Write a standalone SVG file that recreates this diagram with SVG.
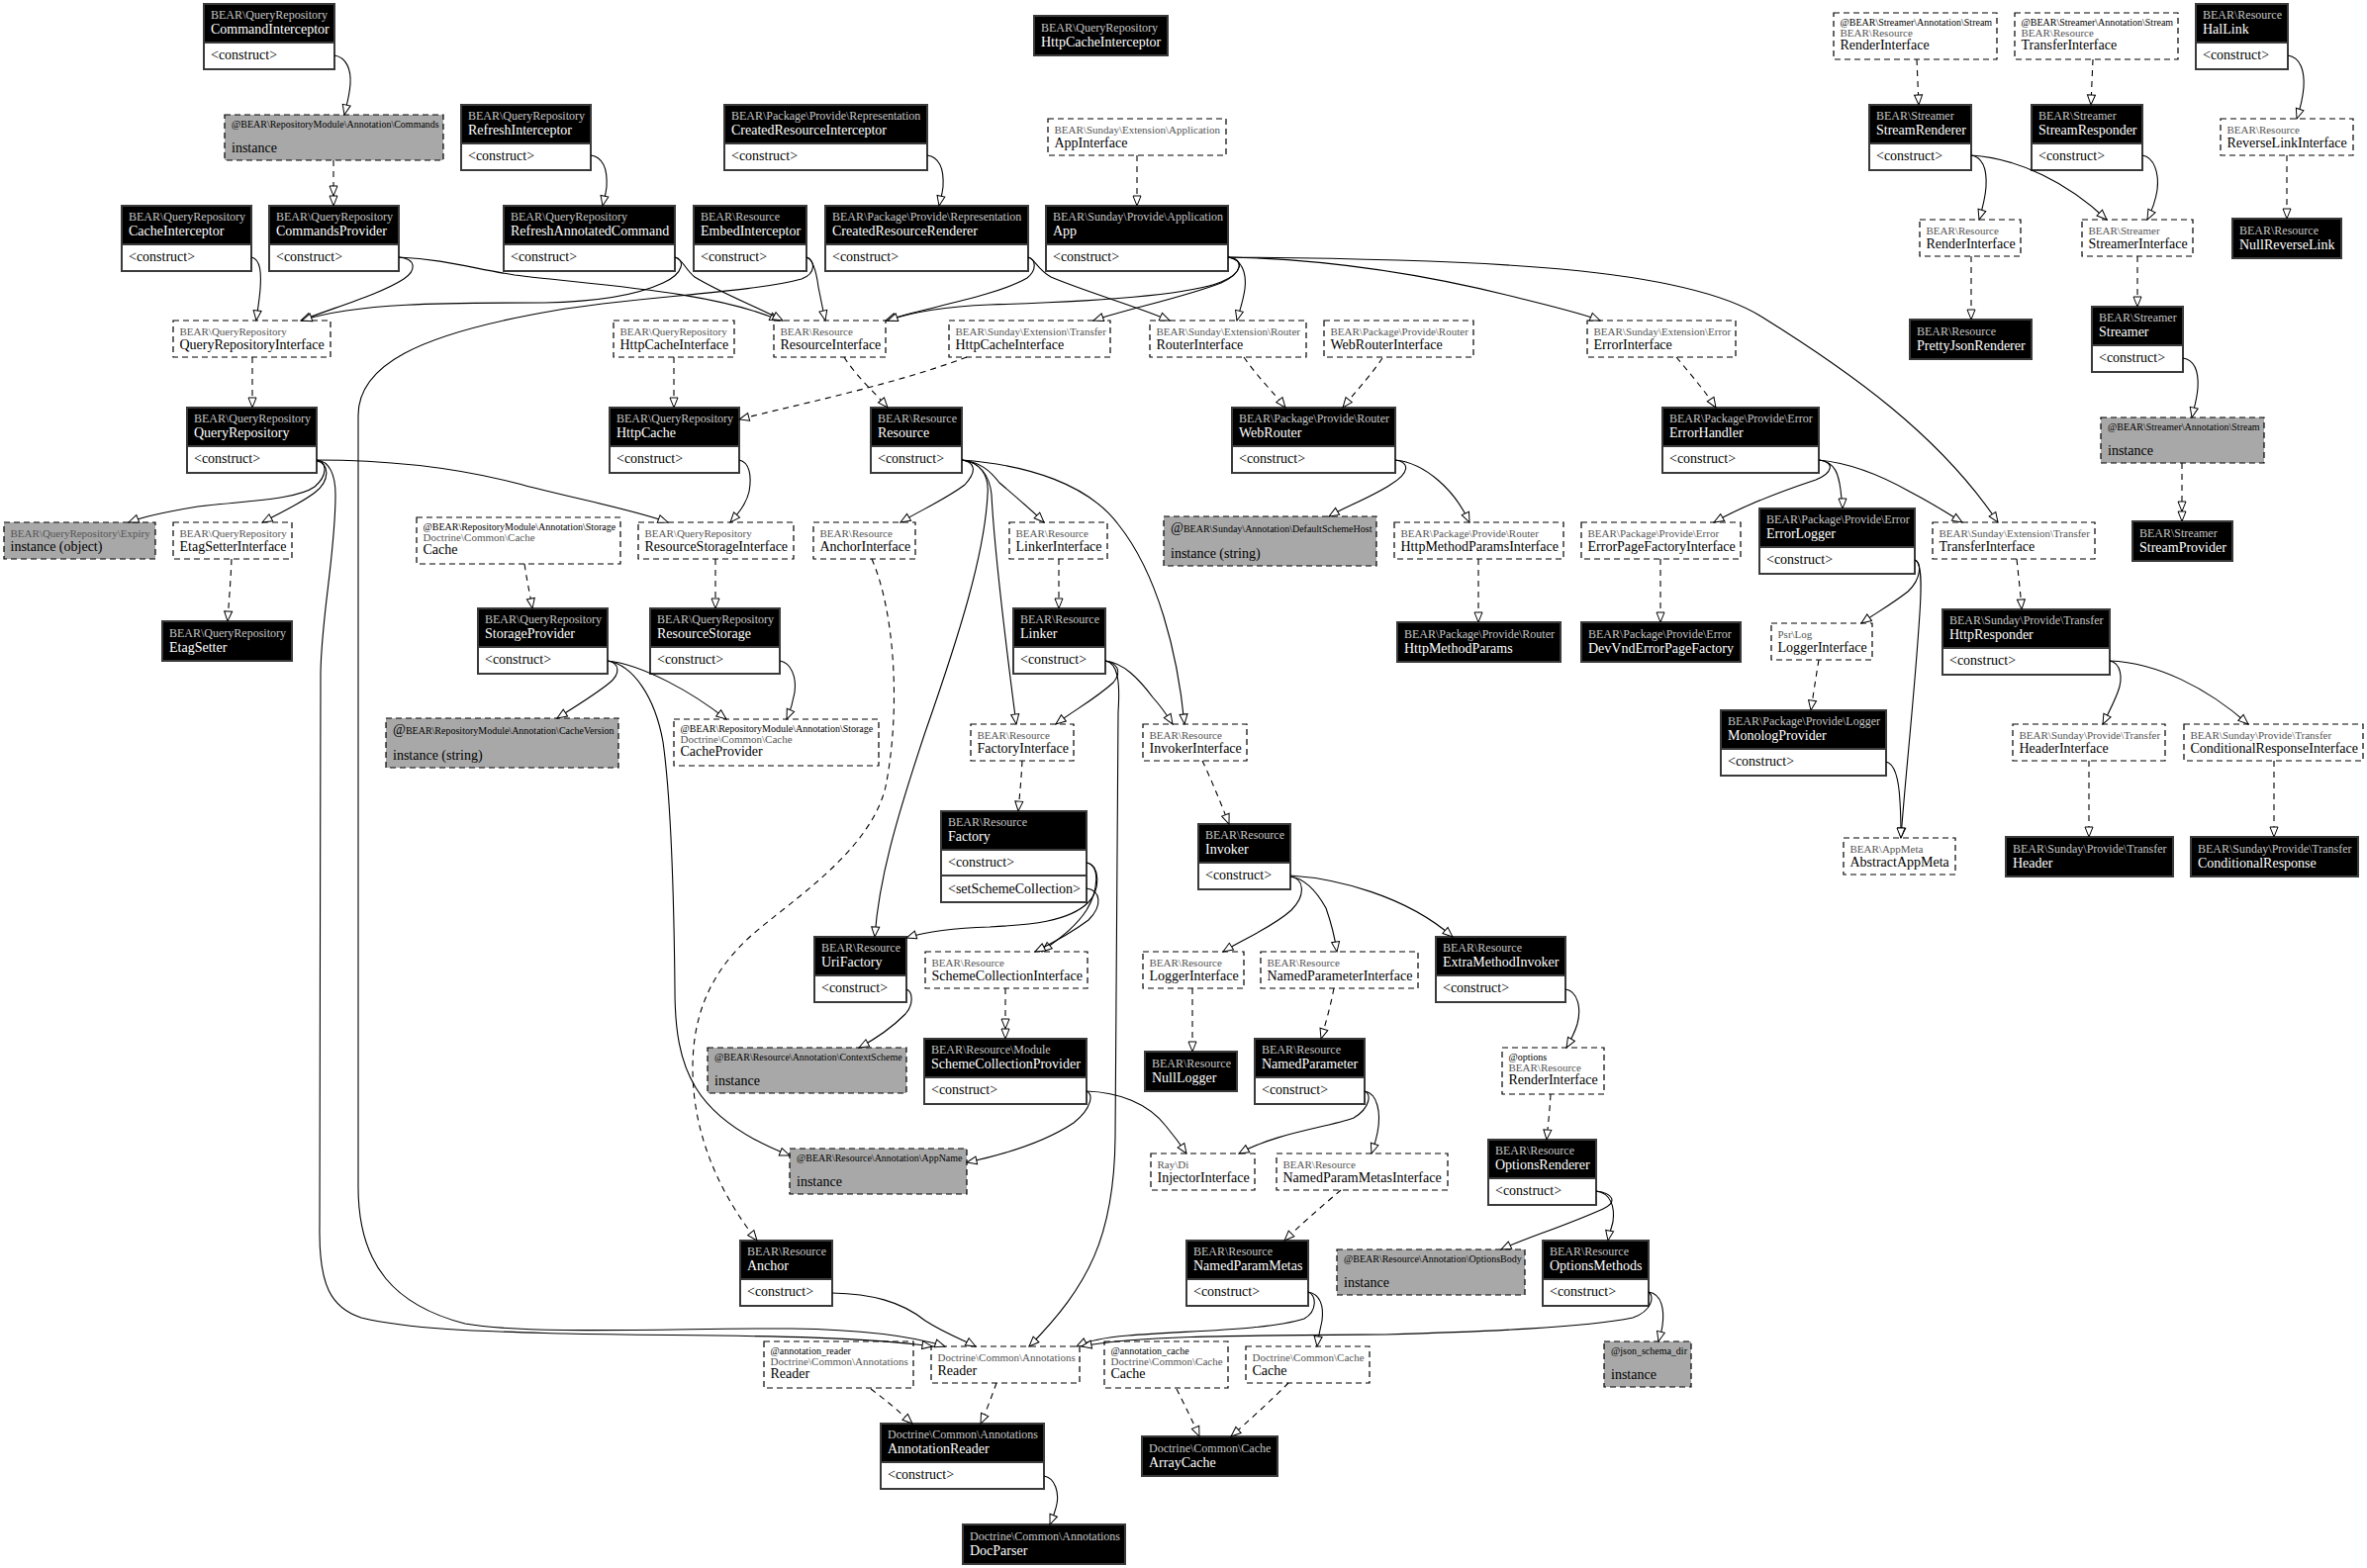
<svg xmlns="http://www.w3.org/2000/svg" width="2392" height="1585" viewBox="0 0 2392 1585">
<style>
text{font-family:"Liberation Serif","Times New Roman",serif}
.bx{fill:#fff;stroke:#3a3a3a;stroke-width:2}
.hd{fill:#000;stroke:#3a3a3a;stroke-width:2}
.if{fill:#fff;stroke:#000;stroke-width:1.2;stroke-dasharray:6,4}
.gr{fill:#a8a8a8;stroke:#000;stroke-width:1.2;stroke-dasharray:6,4}
.ns{font-size:12px;fill:#c4c4c4}
.nm{font-size:14px;fill:#fff}
.ct{font-size:14px;fill:#000}
.ins{font-size:11px;fill:#555}
.inm{font-size:14px;fill:#000}
.an{font-size:10px;fill:#000}
.at{font-size:14px;fill:#000}
.e{fill:none;stroke:#000;stroke-width:1.1;marker-end:url(#arr)}
.d{stroke-dasharray:6,5}
.h{stroke:none}
</style>
<defs>
<marker id="arr" markerUnits="userSpaceOnUse" markerWidth="14" markerHeight="12" viewBox="-2 -2 14 12" refX="10" refY="4" orient="auto" overflow="visible">
<path d="M0,0 L10,4 L0,8 Z" fill="#fff" stroke="#000" stroke-width="1" stroke-dasharray="none"/>
</marker>
</defs>
<rect x="0" y="0" width="2392" height="1585" fill="#fff"/>

<g id="nodes">
<g id="n-CommandInterceptor"><rect class="bx" x="206" y="4" width="132" height="66"/><rect class="hd" x="206" y="4" width="132" height="39"/><text class="ns" x="213" y="19">BEAR\QueryRepository</text><text class="nm" x="213" y="34">CommandInterceptor</text><text class="ct" x="213" y="60">&lt;construct&gt;</text></g>
<g id="n-RefreshInterceptor"><rect class="bx" x="466" y="106" width="131" height="66"/><rect class="hd" x="466" y="106" width="131" height="39"/><text class="ns" x="473" y="121">BEAR\QueryRepository</text><text class="nm" x="473" y="136">RefreshInterceptor</text><text class="ct" x="473" y="162">&lt;construct&gt;</text></g>
<g id="n-CreatedResourceInterceptor"><rect class="bx" x="732" y="106" width="205" height="66"/><rect class="hd" x="732" y="106" width="205" height="39"/><text class="ns" x="739" y="121">BEAR\Package\Provide\Representation</text><text class="nm" x="739" y="136">CreatedResourceInterceptor</text><text class="ct" x="739" y="162">&lt;construct&gt;</text></g>
<g id="n-CacheInterceptor"><rect class="bx" x="123" y="208" width="131" height="66"/><rect class="hd" x="123" y="208" width="131" height="39"/><text class="ns" x="130" y="223">BEAR\QueryRepository</text><text class="nm" x="130" y="238">CacheInterceptor</text><text class="ct" x="130" y="264">&lt;construct&gt;</text></g>
<g id="n-CommandsProvider"><rect class="bx" x="272" y="208" width="131" height="66"/><rect class="hd" x="272" y="208" width="131" height="39"/><text class="ns" x="279" y="223">BEAR\QueryRepository</text><text class="nm" x="279" y="238">CommandsProvider</text><text class="ct" x="279" y="264">&lt;construct&gt;</text></g>
<g id="n-RefreshAnnotatedCommand"><rect class="bx" x="509" y="208" width="173" height="66"/><rect class="hd" x="509" y="208" width="173" height="39"/><text class="ns" x="516" y="223">BEAR\QueryRepository</text><text class="nm" x="516" y="238">RefreshAnnotatedCommand</text><text class="ct" x="516" y="264">&lt;construct&gt;</text></g>
<g id="n-EmbedInterceptor"><rect class="bx" x="701" y="208" width="114" height="66"/><rect class="hd" x="701" y="208" width="114" height="39"/><text class="ns" x="708" y="223">BEAR\Resource</text><text class="nm" x="708" y="238">EmbedInterceptor</text><text class="ct" x="708" y="264">&lt;construct&gt;</text></g>
<g id="n-CreatedResourceRenderer"><rect class="bx" x="834" y="208" width="205" height="66"/><rect class="hd" x="834" y="208" width="205" height="39"/><text class="ns" x="841" y="223">BEAR\Package\Provide\Representation</text><text class="nm" x="841" y="238">CreatedResourceRenderer</text><text class="ct" x="841" y="264">&lt;construct&gt;</text></g>
<g id="n-App"><rect class="bx" x="1057" y="208" width="184" height="66"/><rect class="hd" x="1057" y="208" width="184" height="39"/><text class="ns" x="1064" y="223">BEAR\Sunday\Provide\Application</text><text class="nm" x="1064" y="238">App</text><text class="ct" x="1064" y="264">&lt;construct&gt;</text></g>
<g id="n-QueryRepository"><rect class="bx" x="189" y="412" width="131" height="66"/><rect class="hd" x="189" y="412" width="131" height="39"/><text class="ns" x="196" y="427">BEAR\QueryRepository</text><text class="nm" x="196" y="442">QueryRepository</text><text class="ct" x="196" y="468">&lt;construct&gt;</text></g>
<g id="n-HttpCache"><rect class="bx" x="616" y="412" width="131" height="66"/><rect class="hd" x="616" y="412" width="131" height="39"/><text class="ns" x="623" y="427">BEAR\QueryRepository</text><text class="nm" x="623" y="442">HttpCache</text><text class="ct" x="623" y="468">&lt;construct&gt;</text></g>
<g id="n-Resource"><rect class="bx" x="880" y="412" width="92" height="66"/><rect class="hd" x="880" y="412" width="92" height="39"/><text class="ns" x="887" y="427">BEAR\Resource</text><text class="nm" x="887" y="442">Resource</text><text class="ct" x="887" y="468">&lt;construct&gt;</text></g>
<g id="n-WebRouter"><rect class="bx" x="1245" y="412" width="165" height="66"/><rect class="hd" x="1245" y="412" width="165" height="39"/><text class="ns" x="1252" y="427">BEAR\Package\Provide\Router</text><text class="nm" x="1252" y="442">WebRouter</text><text class="ct" x="1252" y="468">&lt;construct&gt;</text></g>
<g id="n-ErrorHandler"><rect class="bx" x="1680" y="412" width="158" height="66"/><rect class="hd" x="1680" y="412" width="158" height="39"/><text class="ns" x="1687" y="427">BEAR\Package\Provide\Error</text><text class="nm" x="1687" y="442">ErrorHandler</text><text class="ct" x="1687" y="468">&lt;construct&gt;</text></g>
<g id="n-StreamRenderer"><rect class="bx" x="1889" y="106" width="103" height="66"/><rect class="hd" x="1889" y="106" width="103" height="39"/><text class="ns" x="1896" y="121">BEAR\Streamer</text><text class="nm" x="1896" y="136">StreamRenderer</text><text class="ct" x="1896" y="162">&lt;construct&gt;</text></g>
<g id="n-StreamResponder"><rect class="bx" x="2053" y="106" width="112" height="66"/><rect class="hd" x="2053" y="106" width="112" height="39"/><text class="ns" x="2060" y="121">BEAR\Streamer</text><text class="nm" x="2060" y="136">StreamResponder</text><text class="ct" x="2060" y="162">&lt;construct&gt;</text></g>
<g id="n-HalLink"><rect class="bx" x="2219" y="4" width="93" height="66"/><rect class="hd" x="2219" y="4" width="93" height="39"/><text class="ns" x="2226" y="19">BEAR\Resource</text><text class="nm" x="2226" y="34">HalLink</text><text class="ct" x="2226" y="60">&lt;construct&gt;</text></g>
<g id="n-Streamer"><rect class="bx" x="2114" y="310" width="92" height="66"/><rect class="hd" x="2114" y="310" width="92" height="39"/><text class="ns" x="2121" y="325">BEAR\Streamer</text><text class="nm" x="2121" y="340">Streamer</text><text class="ct" x="2121" y="366">&lt;construct&gt;</text></g>
<g id="n-StorageProvider"><rect class="bx" x="483" y="615" width="131" height="66"/><rect class="hd" x="483" y="615" width="131" height="39"/><text class="ns" x="490" y="630">BEAR\QueryRepository</text><text class="nm" x="490" y="645">StorageProvider</text><text class="ct" x="490" y="671">&lt;construct&gt;</text></g>
<g id="n-ResourceStorage"><rect class="bx" x="657" y="615" width="131" height="66"/><rect class="hd" x="657" y="615" width="131" height="39"/><text class="ns" x="664" y="630">BEAR\QueryRepository</text><text class="nm" x="664" y="645">ResourceStorage</text><text class="ct" x="664" y="671">&lt;construct&gt;</text></g>
<g id="n-Linker"><rect class="bx" x="1024" y="615" width="93" height="66"/><rect class="hd" x="1024" y="615" width="93" height="39"/><text class="ns" x="1031" y="630">BEAR\Resource</text><text class="nm" x="1031" y="645">Linker</text><text class="ct" x="1031" y="671">&lt;construct&gt;</text></g>
<g id="n-ErrorLogger"><rect class="bx" x="1778" y="514" width="157" height="66"/><rect class="hd" x="1778" y="514" width="157" height="39"/><text class="ns" x="1785" y="529">BEAR\Package\Provide\Error</text><text class="nm" x="1785" y="544">ErrorLogger</text><text class="ct" x="1785" y="570">&lt;construct&gt;</text></g>
<g id="n-HttpResponder"><rect class="bx" x="1963" y="616" width="169" height="66"/><rect class="hd" x="1963" y="616" width="169" height="39"/><text class="ns" x="1970" y="631">BEAR\Sunday\Provide\Transfer</text><text class="nm" x="1970" y="646">HttpResponder</text><text class="ct" x="1970" y="672">&lt;construct&gt;</text></g>
<g id="n-MonologProvider"><rect class="bx" x="1739" y="718" width="167" height="66"/><rect class="hd" x="1739" y="718" width="167" height="39"/><text class="ns" x="1746" y="733">BEAR\Package\Provide\Logger</text><text class="nm" x="1746" y="748">MonologProvider</text><text class="ct" x="1746" y="774">&lt;construct&gt;</text></g>
<g id="n-Factory"><rect class="bx" x="951" y="820" width="147" height="92"/><rect class="hd" x="951" y="820" width="147" height="39"/><line x1="951" y1="885" x2="1098" y2="885" stroke="#3a3a3a" stroke-width="2"/><text class="ns" x="958" y="835">BEAR\Resource</text><text class="nm" x="958" y="850">Factory</text><text class="ct" x="958" y="876">&lt;construct&gt;</text><text class="ct" x="958" y="903">&lt;setSchemeCollection&gt;</text></g>
<g id="n-Invoker"><rect class="bx" x="1211" y="833" width="93" height="66"/><rect class="hd" x="1211" y="833" width="93" height="39"/><text class="ns" x="1218" y="848">BEAR\Resource</text><text class="nm" x="1218" y="863">Invoker</text><text class="ct" x="1218" y="889">&lt;construct&gt;</text></g>
<g id="n-UriFactory"><rect class="bx" x="823" y="947" width="93" height="66"/><rect class="hd" x="823" y="947" width="93" height="39"/><text class="ns" x="830" y="962">BEAR\Resource</text><text class="nm" x="830" y="977">UriFactory</text><text class="ct" x="830" y="1003">&lt;construct&gt;</text></g>
<g id="n-ExtraMethodInvoker"><rect class="bx" x="1451" y="947" width="131" height="66"/><rect class="hd" x="1451" y="947" width="131" height="39"/><text class="ns" x="1458" y="962">BEAR\Resource</text><text class="nm" x="1458" y="977">ExtraMethodInvoker</text><text class="ct" x="1458" y="1003">&lt;construct&gt;</text></g>
<g id="n-SchemeCollectionProvider"><rect class="bx" x="934" y="1050" width="164" height="66"/><rect class="hd" x="934" y="1050" width="164" height="39"/><text class="ns" x="941" y="1065">BEAR\Resource\Module</text><text class="nm" x="941" y="1080">SchemeCollectionProvider</text><text class="ct" x="941" y="1106">&lt;construct&gt;</text></g>
<g id="n-NamedParameter"><rect class="bx" x="1268" y="1050" width="111" height="66"/><rect class="hd" x="1268" y="1050" width="111" height="39"/><text class="ns" x="1275" y="1065">BEAR\Resource</text><text class="nm" x="1275" y="1080">NamedParameter</text><text class="ct" x="1275" y="1106">&lt;construct&gt;</text></g>
<g id="n-OptionsRenderer"><rect class="bx" x="1504" y="1152" width="109" height="66"/><rect class="hd" x="1504" y="1152" width="109" height="39"/><text class="ns" x="1511" y="1167">BEAR\Resource</text><text class="nm" x="1511" y="1182">OptionsRenderer</text><text class="ct" x="1511" y="1208">&lt;construct&gt;</text></g>
<g id="n-Anchor"><rect class="bx" x="748" y="1254" width="93" height="66"/><rect class="hd" x="748" y="1254" width="93" height="39"/><text class="ns" x="755" y="1269">BEAR\Resource</text><text class="nm" x="755" y="1284">Anchor</text><text class="ct" x="755" y="1310">&lt;construct&gt;</text></g>
<g id="n-NamedParamMetas"><rect class="bx" x="1199" y="1254" width="123" height="66"/><rect class="hd" x="1199" y="1254" width="123" height="39"/><text class="ns" x="1206" y="1269">BEAR\Resource</text><text class="nm" x="1206" y="1284">NamedParamMetas</text><text class="ct" x="1206" y="1310">&lt;construct&gt;</text></g>
<g id="n-OptionsMethods"><rect class="bx" x="1559" y="1254" width="107" height="66"/><rect class="hd" x="1559" y="1254" width="107" height="39"/><text class="ns" x="1566" y="1269">BEAR\Resource</text><text class="nm" x="1566" y="1284">OptionsMethods</text><text class="ct" x="1566" y="1310">&lt;construct&gt;</text></g>
<g id="n-AnnotationReader"><rect class="bx" x="890" y="1439" width="165" height="66"/><rect class="hd" x="890" y="1439" width="165" height="39"/><text class="ns" x="897" y="1454">Doctrine\Common\Annotations</text><text class="nm" x="897" y="1469">AnnotationReader</text><text class="ct" x="897" y="1495">&lt;construct&gt;</text></g>

<g id="n-HttpCacheInterceptor"><rect class="hd" x="1045" y="16" width="135" height="40"/><text class="ns" x="1052" y="32">BEAR\QueryRepository</text><text class="nm" x="1052" y="46.5">HttpCacheInterceptor</text></g>
<g id="n-EtagSetter"><rect class="hd" x="164" y="628" width="131" height="40"/><text class="ns" x="171" y="644">BEAR\QueryRepository</text><text class="nm" x="171" y="658.5">EtagSetter</text></g>
<g id="n-NullReverseLink"><rect class="hd" x="2256" y="221" width="110" height="40"/><text class="ns" x="2263" y="237">BEAR\Resource</text><text class="nm" x="2263" y="251.5">NullReverseLink</text></g>
<g id="n-PrettyJsonRenderer"><rect class="hd" x="1930" y="323" width="123" height="40"/><text class="ns" x="1937" y="339">BEAR\Resource</text><text class="nm" x="1937" y="353.5">PrettyJsonRenderer</text></g>
<g id="n-StreamProvider"><rect class="hd" x="2155" y="527" width="101" height="40"/><text class="ns" x="2162" y="543">BEAR\Streamer</text><text class="nm" x="2162" y="557.5">StreamProvider</text></g>
<g id="n-HttpMethodParams"><rect class="hd" x="1412" y="629" width="165" height="40"/><text class="ns" x="1419" y="645">BEAR\Package\Provide\Router</text><text class="nm" x="1419" y="659.5">HttpMethodParams</text></g>
<g id="n-DevVndErrorPageFactory"><rect class="hd" x="1598" y="629" width="161" height="40"/><text class="ns" x="1605" y="645">BEAR\Package\Provide\Error</text><text class="nm" x="1605" y="659.5">DevVndErrorPageFactory</text></g>
<g id="n-Header"><rect class="hd" x="2027" y="846" width="169" height="40"/><text class="ns" x="2034" y="862">BEAR\Sunday\Provide\Transfer</text><text class="nm" x="2034" y="876.5">Header</text></g>
<g id="n-ConditionalResponse"><rect class="hd" x="2214" y="846" width="169" height="40"/><text class="ns" x="2221" y="862">BEAR\Sunday\Provide\Transfer</text><text class="nm" x="2221" y="876.5">ConditionalResponse</text></g>
<g id="n-NullLogger"><rect class="hd" x="1157" y="1063" width="93" height="40"/><text class="ns" x="1164" y="1079">BEAR\Resource</text><text class="nm" x="1164" y="1093.5">NullLogger</text></g>
<g id="n-ArrayCache"><rect class="hd" x="1154" y="1452" width="137" height="40"/><text class="ns" x="1161" y="1468">Doctrine\Common\Cache</text><text class="nm" x="1161" y="1482.5">ArrayCache</text></g>
<g id="n-DocParser"><rect class="hd" x="973" y="1541" width="164" height="40"/><text class="ns" x="980" y="1557">Doctrine\Common\Annotations</text><text class="nm" x="980" y="1571.5">DocParser</text></g>

<g id="i-QueryRepositoryInterface"><rect class="if" x="175" y="324" width="159" height="37"/><text class="ins" x="181.5" y="338.5">BEAR\QueryRepository</text><text class="inm" x="181.5" y="352.5">QueryRepositoryInterface</text></g>
<g id="i-HttpCacheInterface-QR"><rect class="if" x="620" y="324" width="122" height="37"/><text class="ins" x="626.5" y="338.5">BEAR\QueryRepository</text><text class="inm" x="626.5" y="352.5">HttpCacheInterface</text></g>
<g id="i-ResourceInterface"><rect class="if" x="782" y="324" width="113" height="37"/><text class="ins" x="788.5" y="338.5">BEAR\Resource</text><text class="inm" x="788.5" y="352.5">ResourceInterface</text></g>
<g id="i-HttpCacheInterface-T"><rect class="if" x="959" y="324" width="163" height="37"/><text class="ins" x="965.5" y="338.5">BEAR\Sunday\Extension\Transfer</text><text class="inm" x="965.5" y="352.5">HttpCacheInterface</text></g>
<g id="i-RouterInterface"><rect class="if" x="1162" y="324" width="158" height="37"/><text class="ins" x="1168.5" y="338.5">BEAR\Sunday\Extension\Router</text><text class="inm" x="1168.5" y="352.5">RouterInterface</text></g>
<g id="i-WebRouterInterface"><rect class="if" x="1338" y="324" width="151" height="37"/><text class="ins" x="1344.5" y="338.5">BEAR\Package\Provide\Router</text><text class="inm" x="1344.5" y="352.5">WebRouterInterface</text></g>
<g id="i-ErrorInterface"><rect class="if" x="1604" y="324" width="150" height="37"/><text class="ins" x="1610.5" y="338.5">BEAR\Sunday\Extension\Error</text><text class="inm" x="1610.5" y="352.5">ErrorInterface</text></g>
<g id="i-AppInterface"><rect class="if" x="1059" y="120" width="180" height="37"/><text class="ins" x="1065.5" y="134.5">BEAR\Sunday\Extension\Application</text><text class="inm" x="1065.5" y="148.5">AppInterface</text></g>
<g id="i-ReverseLinkInterface"><rect class="if" x="2244" y="120" width="134" height="37"/><text class="ins" x="2250.5" y="134.5">BEAR\Resource</text><text class="inm" x="2250.5" y="148.5">ReverseLinkInterface</text></g>
<g id="i-RenderInterface"><rect class="if" x="1940" y="222" width="102" height="37"/><text class="ins" x="1946.5" y="236.5">BEAR\Resource</text><text class="inm" x="1946.5" y="250.5">RenderInterface</text></g>
<g id="i-StreamerInterface"><rect class="if" x="2104" y="222" width="112" height="37"/><text class="ins" x="2110.5" y="236.5">BEAR\Streamer</text><text class="inm" x="2110.5" y="250.5">StreamerInterface</text></g>
<g id="i-EtagSetterInterface"><rect class="if" x="175" y="528" width="120" height="37"/><text class="ins" x="181.5" y="542.5">BEAR\QueryRepository</text><text class="inm" x="181.5" y="556.5">EtagSetterInterface</text></g>
<g id="i-ResourceStorageInterface"><rect class="if" x="645" y="528" width="157" height="37"/><text class="ins" x="651.5" y="542.5">BEAR\QueryRepository</text><text class="inm" x="651.5" y="556.5">ResourceStorageInterface</text></g>
<g id="i-AnchorInterface"><rect class="if" x="822" y="528" width="103" height="37"/><text class="ins" x="828.5" y="542.5">BEAR\Resource</text><text class="inm" x="828.5" y="556.5">AnchorInterface</text></g>
<g id="i-LinkerInterface"><rect class="if" x="1020" y="528" width="99" height="37"/><text class="ins" x="1026.5" y="542.5">BEAR\Resource</text><text class="inm" x="1026.5" y="556.5">LinkerInterface</text></g>
<g id="i-HttpMethodParamsInterface"><rect class="if" x="1409" y="528" width="171" height="37"/><text class="ins" x="1415.5" y="542.5">BEAR\Package\Provide\Router</text><text class="inm" x="1415.5" y="556.5">HttpMethodParamsInterface</text></g>
<g id="i-ErrorPageFactoryInterface"><rect class="if" x="1598" y="528" width="161" height="37"/><text class="ins" x="1604.5" y="542.5">BEAR\Package\Provide\Error</text><text class="inm" x="1604.5" y="556.5">ErrorPageFactoryInterface</text></g>
<g id="i-TransferInterface"><rect class="if" x="1953" y="528" width="164" height="37"/><text class="ins" x="1959.5" y="542.5">BEAR\Sunday\Extension\Transfer</text><text class="inm" x="1959.5" y="556.5">TransferInterface</text></g>
<g id="i-LoggerInterface-Psr"><rect class="if" x="1790" y="630" width="102" height="37"/><text class="ins" x="1796.5" y="644.5">Psr\Log</text><text class="inm" x="1796.5" y="658.5">LoggerInterface</text></g>
<g id="i-FactoryInterface"><rect class="if" x="981" y="732" width="104" height="37"/><text class="ins" x="987.5" y="746.5">BEAR\Resource</text><text class="inm" x="987.5" y="760.5">FactoryInterface</text></g>
<g id="i-InvokerInterface"><rect class="if" x="1155" y="732" width="105" height="37"/><text class="ins" x="1161.5" y="746.5">BEAR\Resource</text><text class="inm" x="1161.5" y="760.5">InvokerInterface</text></g>
<g id="i-HeaderInterface"><rect class="if" x="2034" y="732" width="154" height="37"/><text class="ins" x="2040.5" y="746.5">BEAR\Sunday\Provide\Transfer</text><text class="inm" x="2040.5" y="760.5">HeaderInterface</text></g>
<g id="i-ConditionalResponseInterface"><rect class="if" x="2207" y="732" width="181" height="37"/><text class="ins" x="2213.5" y="746.5">BEAR\Sunday\Provide\Transfer</text><text class="inm" x="2213.5" y="760.5">ConditionalResponseInterface</text></g>
<g id="i-AbstractAppMeta"><rect class="if" x="1863" y="847" width="113" height="37"/><text class="ins" x="1869.5" y="861.5">BEAR\AppMeta</text><text class="inm" x="1869.5" y="875.5">AbstractAppMeta</text></g>
<g id="i-SchemeCollectionInterface"><rect class="if" x="935" y="962" width="164" height="37"/><text class="ins" x="941.5" y="976.5">BEAR\Resource</text><text class="inm" x="941.5" y="990.5">SchemeCollectionInterface</text></g>
<g id="i-LoggerInterface-R"><rect class="if" x="1155" y="962" width="102" height="37"/><text class="ins" x="1161.5" y="976.5">BEAR\Resource</text><text class="inm" x="1161.5" y="990.5">LoggerInterface</text></g>
<g id="i-NamedParameterInterface"><rect class="if" x="1274" y="962" width="159" height="37"/><text class="ins" x="1280.5" y="976.5">BEAR\Resource</text><text class="inm" x="1280.5" y="990.5">NamedParameterInterface</text></g>
<g id="i-InjectorInterface"><rect class="if" x="1163" y="1166" width="105" height="37"/><text class="ins" x="1169.5" y="1180.5">Ray\Di</text><text class="inm" x="1169.5" y="1194.5">InjectorInterface</text></g>
<g id="i-NamedParamMetasInterface"><rect class="if" x="1290" y="1166" width="173" height="37"/><text class="ins" x="1296.5" y="1180.5">BEAR\Resource</text><text class="inm" x="1296.5" y="1194.5">NamedParamMetasInterface</text></g>
<g id="i-Reader"><rect class="if" x="941" y="1361" width="150" height="37"/><text class="ins" x="947.5" y="1375.5">Doctrine\Common\Annotations</text><text class="inm" x="947.5" y="1389.5">Reader</text></g>
<g id="i-Cache"><rect class="if" x="1259" y="1361" width="125" height="37"/><text class="ins" x="1265.5" y="1375.5">Doctrine\Common\Cache</text><text class="inm" x="1265.5" y="1389.5">Cache</text></g>

<g id="i-RenderInterface-Stream"><rect class="if" x="1853" y="13" width="165" height="47"/><text class="an" x="1859.5" y="26">@BEAR\Streamer\Annotation\Stream</text><text class="ins" x="1859.5" y="37">BEAR\Resource</text><text class="inm" x="1859.5" y="50">RenderInterface</text></g>
<g id="i-TransferInterface-Stream"><rect class="if" x="2036" y="13" width="165" height="47"/><text class="an" x="2042.5" y="26">@BEAR\Streamer\Annotation\Stream</text><text class="ins" x="2042.5" y="37">BEAR\Resource</text><text class="inm" x="2042.5" y="50">TransferInterface</text></g>
<g id="i-Cache-Storage"><rect class="if" x="421" y="523" width="206" height="47"/><text class="an" x="427.5" y="536">@BEAR\RepositoryModule\Annotation\Storage</text><text class="ins" x="427.5" y="547">Doctrine\Common\Cache</text><text class="inm" x="427.5" y="560">Cache</text></g>
<g id="i-CacheProvider-Storage"><rect class="if" x="681" y="727" width="207" height="47"/><text class="an" x="687.5" y="740">@BEAR\RepositoryModule\Annotation\Storage</text><text class="ins" x="687.5" y="751">Doctrine\Common\Cache</text><text class="inm" x="687.5" y="764">CacheProvider</text></g>
<g id="i-RenderInterface-options"><rect class="if" x="1518" y="1059" width="103" height="47"/><text class="an" x="1524.5" y="1072">@options</text><text class="ins" x="1524.5" y="1083">BEAR\Resource</text><text class="inm" x="1524.5" y="1096">RenderInterface</text></g>
<g id="i-Reader-annotation_reader"><rect class="if" x="772" y="1356" width="151" height="47"/><text class="an" x="778.5" y="1369">@annotation_reader</text><text class="ins" x="778.5" y="1380">Doctrine\Common\Annotations</text><text class="inm" x="778.5" y="1393">Reader</text></g>
<g id="i-Cache-annotation_cache"><rect class="if" x="1116" y="1356" width="125" height="47"/><text class="an" x="1122.5" y="1369">@annotation_cache</text><text class="ins" x="1122.5" y="1380">Doctrine\Common\Cache</text><text class="inm" x="1122.5" y="1393">Cache</text></g>

<g id="v-Commands"><rect class="gr" x="227" y="116" width="221" height="46"/><text class="an" x="234" y="129">@BEAR\RepositoryModule\Annotation\Commands</text><text class="at" x="234" y="154">instance</text></g>
<g id="v-Stream"><rect class="gr" x="2123" y="422" width="165" height="46"/><text class="an" x="2130" y="435">@BEAR\Streamer\Annotation\Stream</text><text class="at" x="2130" y="460">instance</text></g>
<g id="v-ContextScheme"><rect class="gr" x="715" y="1059" width="201" height="46"/><text class="an" x="722" y="1072">@BEAR\Resource\Annotation\ContextScheme</text><text class="at" x="722" y="1097">instance</text></g>
<g id="v-AppName"><rect class="gr" x="798" y="1161" width="179" height="46"/><text class="an" x="805" y="1174">@BEAR\Resource\Annotation\AppName</text><text class="at" x="805" y="1199">instance</text></g>
<g id="v-OptionsBody"><rect class="gr" x="1351" y="1263" width="190" height="46"/><text class="an" x="1358" y="1276">@BEAR\Resource\Annotation\OptionsBody</text><text class="at" x="1358" y="1301">instance</text></g>
<g id="v-json_schema_dir"><rect class="gr" x="1621" y="1356" width="88" height="46"/><text class="an" x="1628" y="1369">@json_schema_dir</text><text class="at" x="1628" y="1394">instance</text></g>
<g id="v-DefaultSchemeHost"><rect class="gr" x="1176" y="522" width="215" height="50"/><text class="an" x="1183" y="538"><tspan font-size="14">@</tspan>BEAR\Sunday\Annotation\DefaultSchemeHost</text><text class="at" x="1183" y="564">instance (string)</text></g>
<g id="v-CacheVersion"><rect class="gr" x="390" y="726" width="235" height="50"/><text class="an" x="397" y="742"><tspan font-size="14">@</tspan>BEAR\RepositoryModule\Annotation\CacheVersion</text><text class="at" x="397" y="768">instance (string)</text></g>
<g id="v-Expiry"><rect class="gr" x="4" y="528" width="153" height="37"/><text class="ins" x="10.5" y="542.5">BEAR\QueryRepository\Expiry</text><text class="at" x="10.5" y="556.5">instance (object)</text></g>
</g>

<g id="connectors">
<path class="e" d="M338,56 C350,58 355,70 354,85 C353,98 350,107 348,116"/>
<path class="e d" d="M337,162 L337,208"/>
<path class="e h" d="M337,162 L337,198"/>
<path class="e" d="M254,260 C264,262 264,278 263,292 C262,305 260,315 259,324"/>
<path class="e" d="M403,260 C422,262 420,274 408,282 C385,297 340,310 304,324"/>
<path class="e" d="M403,260 C450,262 480,272 520,278 C600,288 720,294 788,324"/>
<path class="e" d="M597,157 C610,159 614,172 613,189 C612,198 610,203 609,208"/>
<path class="e" d="M682,260 C692,262 692,276 670,286 C640,300 600,305 550,306 C450,306 360,306 305,324"/>
<path class="e" d="M682,260 C690,262 692,272 702,280 C730,297 765,310 791,324"/>
<path class="e" d="M815,260 C822,262 825,275 827,290 C830,305 832,315 834,324"/>
<path class="e" d="M815,260 C823,262 826,276 810,282 C760,296 640,300 560,314 C420,338 362,370 362,420 L362,1200 C362,1280 400,1320 470,1338 C540,1350 700,1342 800,1343 C870,1344 920,1350 955,1361"/>
<path class="e" d="M937,157 C950,159 954,172 953,189 C952,198 950,203 949,208"/>
<path class="e" d="M1039,260 C1047,262 1048,273 1038,281 C1005,300 930,312 895,324"/>
<path class="e" d="M1039,260 C1046,262 1048,272 1062,280 C1100,296 1150,310 1182,324"/>
<path class="e d" d="M1149,157 L1149,208"/>
<path class="e" d="M1241,260 C1258,262 1256,276 1234,285 C1200,299 1100,305 1000,308 C950,310 920,316 897,324"/>
<path class="e" d="M1241,260 C1258,262 1256,276 1234,286 C1195,301 1140,312 1105,324"/>
<path class="e" d="M1241,260 C1255,262 1260,276 1258,292 C1256,306 1252,316 1250,324"/>
<path class="e" d="M1241,260 C1350,262 1450,280 1530,300 C1570,310 1600,317 1617,324"/>
<path class="e" d="M1241,260 C1500,262 1700,270 1780,320 C1870,376 1960,440 2019,528"/>
<path class="e d" d="M681,361 L681,412"/>
<path class="e d" d="M977,361 C900,390 800,410 747,424"/>
<path class="e d" d="M853,361 C865,380 885,398 897,412"/>
<path class="e d" d="M255,361 L255,412"/>
<path class="e d" d="M1257,361 C1270,380 1288,398 1299,412"/>
<path class="e d" d="M1397,362 C1385,380 1368,398 1357,412"/>
<path class="e d" d="M1694,361 C1710,380 1725,398 1734,412"/>
<path class="e" d="M320,465 C331,467 331,481 318,492 C300,505 250,506 200,512 C170,517 145,522 130,528"/>
<path class="e" d="M320,466 C333,468 334,486 318,498 C302,510 280,520 265,528"/>
<path class="e" d="M320,465 C380,465 450,470 520,488 C580,504 640,515 675,528"/>
<path class="e" d="M320,465 C333,466 339,480 339,500 C339,560 325,620 324,680 L323,1240 C322,1300 335,1322 365,1332 C420,1345 500,1346 570,1348 C700,1351 850,1348 942,1361"/>
<path class="e" d="M747,465 C757,467 760,480 757,497 C754,510 745,520 738,528"/>
<path class="e" d="M972,465 C985,467 988,476 975,490 C955,505 930,516 910,528"/>
<path class="e" d="M972,465 C990,467 1000,475 1010,488 C1030,505 1045,518 1055,528"/>
<path class="e" d="M972,465 C990,467 1000,480 1002,500 C1005,560 1015,640 1027,732"/>
<path class="e" d="M972,465 C990,467 1000,480 998,500 C995,560 970,640 935,740 C905,830 888,890 884,947"/>
<path class="e" d="M972,465 C1040,470 1100,490 1130,530 C1170,580 1190,660 1197,732"/>
<path class="e" d="M1410,465 C1425,467 1425,478 1405,490 C1385,503 1360,512 1343,522"/>
<path class="e" d="M1410,465 C1440,468 1470,495 1485,528"/>
<path class="e d" d="M1494,565 L1494,629"/>
<path class="e" d="M1838,465 C1855,467 1852,478 1835,485 C1790,500 1760,512 1732,528"/>
<path class="e" d="M1838,465 C1855,467 1858,480 1860,495 C1861,505 1862,510 1862,514"/>
<path class="e" d="M1838,465 C1870,468 1900,480 1930,497 C1955,510 1970,520 1983,528"/>
<path class="e d" d="M1678,565 L1678,629"/>
<path class="e" d="M1935,566 C1942,568 1942,585 1928,598 C1910,612 1895,620 1881,630"/>
<path class="e" d="M1935,566 C1942,568 1942,590 1940,620 C1935,700 1925,790 1921,847"/>
<path class="e d" d="M1838,667 C1835,685 1832,705 1830,718"/>
<path class="e" d="M1906,770 C1915,772 1919,790 1920,810 C1921,825 1921,838 1921,847"/>
<path class="e d" d="M2038,565 C2040,585 2042,600 2043,616"/>
<path class="e" d="M2132,668 C2143,670 2146,685 2140,700 C2135,713 2130,722 2125,732"/>
<path class="e" d="M2132,668 C2180,670 2230,695 2272,732"/>
<path class="e d" d="M2111,769 L2111,846"/>
<path class="e d" d="M2298,769 L2298,846"/>
<path class="e d" d="M1937,60 L1939,106"/>
<path class="e d" d="M2115,60 L2113,106"/>
<path class="e" d="M1992,157 C2004,159 2008,172 2007,189 C2006,202 2003,212 2000,222"/>
<path class="e" d="M1992,157 C2040,160 2090,185 2129,222"/>
<path class="e" d="M2165,157 C2177,159 2182,175 2180,192 C2178,205 2174,214 2170,222"/>
<path class="e d" d="M1992,259 L1992,323"/>
<path class="e d" d="M2160,259 L2160,310"/>
<path class="e" d="M2206,362 C2218,364 2222,375 2221,392 C2220,405 2217,413 2215,422"/>
<path class="e d" d="M2205,468 L2205,527"/>
<path class="e h" d="M2205,468 L2205,517"/>
<path class="e" d="M2312,56 C2325,58 2329,72 2328,88 C2327,102 2324,111 2321,120"/>
<path class="e d" d="M2311,157 L2311,221"/>
<path class="e d" d="M530,570 C533,590 536,603 538,615"/>
<path class="e d" d="M234,565 C233,590 231,612 230,628"/>
<path class="e d" d="M723,565 L723,615"/>
<path class="e d" d="M1070,565 L1070,615"/>
<path class="e" d="M614,668 C626,670 628,681 615,691 C600,703 580,715 563,726"/>
<path class="e" d="M614,668 C650,672 700,700 734,727"/>
<path class="e" d="M614,668 C640,672 662,705 670,750 C677,800 681,900 682,1000 C682,1080 700,1130 798,1168"/>
<path class="e" d="M788,668 C800,670 805,685 803,700 C801,712 798,720 795,727"/>
<path class="e" d="M1117,668 C1128,670 1135,678 1125,690 C1105,708 1085,718 1067,732"/>
<path class="e" d="M1117,668 C1135,670 1150,685 1165,705 C1175,716 1180,724 1185,732"/>
<path class="e" d="M1117,668 C1130,670 1132,690 1130,720 L1127,1150 C1126,1250 1100,1300 1040,1361"/>
<path class="e d" d="M1033,769 C1032,790 1030,808 1029,820"/>
<path class="e d" d="M1215,769 C1225,790 1235,815 1242,833"/>
<path class="e" d="M1098,872 C1112,874 1112,900 1100,912 C1080,932 1040,935 1000,937 C960,938 935,942 916,948"/>
<path class="e" d="M1098,872 C1112,875 1110,900 1098,920 C1085,940 1065,952 1053,962"/>
<path class="e" d="M1098,898 C1112,900 1115,915 1100,930 C1080,945 1060,955 1046,962"/>
<path class="e" d="M916,1000 C922,1002 924,1015 915,1025 C900,1040 885,1050 868,1059"/>
<path class="e d" d="M1016,999 L1016,1050"/>
<path class="e h" d="M1016,999 L1016,1040"/>
<path class="e" d="M1098,1103 C1105,1105 1104,1120 1085,1135 C1055,1155 1010,1168 977,1175"/>
<path class="e" d="M1098,1103 C1130,1104 1160,1115 1178,1138 C1188,1150 1195,1160 1199,1166"/>
<path class="e" d="M1304,886 C1318,888 1320,905 1305,920 C1285,938 1255,950 1236,962"/>
<path class="e" d="M1304,886 C1318,888 1330,900 1340,918 C1346,935 1349,948 1351,962"/>
<path class="e" d="M1304,885 C1350,888 1420,905 1468,947"/>
<path class="e d" d="M1205,999 L1205,1063"/>
<path class="e d" d="M1348,999 C1344,1020 1338,1040 1335,1050"/>
<path class="e" d="M1379,1103 C1386,1105 1385,1120 1368,1130 C1340,1140 1290,1145 1252,1166"/>
<path class="e" d="M1379,1103 C1392,1105 1396,1125 1392,1145 C1390,1155 1388,1160 1386,1166"/>
<path class="e d" d="M1355,1203 C1335,1220 1312,1240 1298,1254"/>
<path class="e" d="M1322,1306 C1330,1308 1332,1325 1318,1333 C1280,1345 1200,1345 1140,1350 C1115,1352 1100,1355 1088,1361"/>
<path class="e" d="M1322,1306 C1334,1308 1338,1320 1336,1335 C1334,1345 1332,1352 1331,1361"/>
<path class="e" d="M1582,1000 C1595,1002 1598,1020 1594,1035 C1591,1045 1587,1052 1583,1059"/>
<path class="e d" d="M1567,1106 C1566,1125 1564,1140 1563,1152"/>
<path class="e" d="M1613,1204 C1630,1206 1635,1215 1620,1222 C1580,1240 1540,1252 1517,1263"/>
<path class="e" d="M1613,1204 C1628,1206 1632,1220 1630,1235 C1628,1243 1626,1248 1625,1254"/>
<path class="e" d="M1666,1306 C1680,1308 1682,1325 1680,1340 C1679,1348 1677,1352 1676,1356"/>
<path class="e" d="M1666,1306 C1672,1310 1670,1325 1650,1332 C1600,1342 1500,1346 1400,1349 C1250,1350 1150,1350 1093,1361"/>
<path class="e" d="M841,1307 C880,1308 910,1315 935,1335 C955,1348 975,1355 986,1361"/>
<path class="e d" d="M881,565 C905,620 910,720 895,795 C880,860 800,910 760,945 C715,985 700,1030 700,1080 C700,1150 730,1210 765,1254"/>
<path class="e d" d="M880,1404 C895,1415 910,1428 922,1439"/>
<path class="e d" d="M1007,1398 C1002,1412 996,1428 991,1439"/>
<path class="e" d="M1055,1492 C1067,1494 1070,1510 1068,1520 C1066,1530 1063,1536 1061,1541"/>
<path class="e d" d="M1189,1404 C1197,1420 1206,1438 1212,1452"/>
<path class="e d" d="M1302,1398 C1285,1415 1260,1438 1244,1452"/>
</g>
</svg>
